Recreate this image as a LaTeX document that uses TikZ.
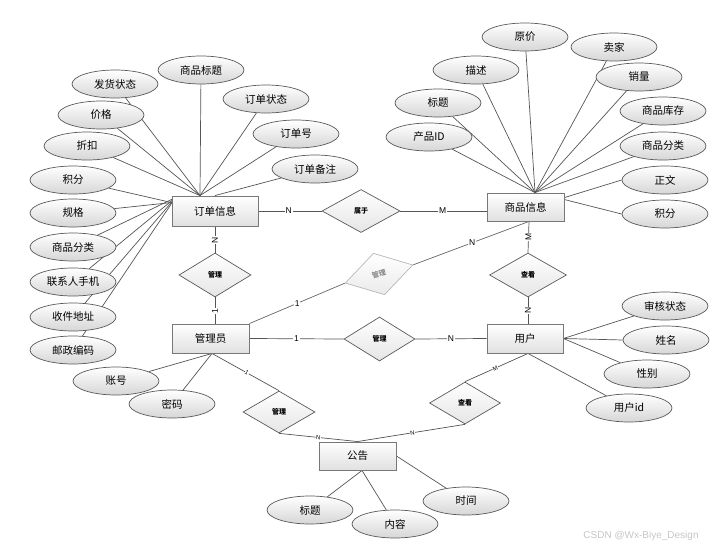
\documentclass[tikz,border=0pt]{standalone}
\usepackage{fontspec}
\setmainfont{Noto Sans CJK SC}
\newfontfamily\latinfont{Liberation Sans}
\usetikzlibrary{shapes.geometric,backgrounds}
\definecolor{edgecol}{HTML}{5A5A5A}
\definecolor{boxcol}{HTML}{787878}
\definecolor{linecol}{HTML}{555555}
\begin{document}
\begin{tikzpicture}[x=1pt,y=-1pt,
  attr/.style={ellipse, draw=edgecol, line width=0.7pt, top color=white, bottom color=black!16,
    minimum width=86pt, minimum height=28pt, inner sep=0pt, font=\fontsize{10.5}{12}\selectfont},
  entity/.style={rectangle, draw=boxcol, line width=0.9pt, top color=white, bottom color=black!12,
    minimum width=77pt, minimum height=29pt, inner sep=0pt, font=\fontsize{10.5}{12}\selectfont},
  rel/.style={diamond, draw=edgecol, line width=0.7pt, top color=white, bottom color=black!10,
    minimum width=72pt, minimum height=44pt, inner sep=0pt, font=\fontsize{7}{8}\selectfont\bfseries},
  relfaint/.style={draw=black!28, top color=white, bottom color=black!8, text=black!45},
  conn/.style={draw=linecol, line width=0.7pt},
  card/.style={fill=white, inner sep=0.8pt, font=\latinfont\fontsize{8.5}{9}\selectfont},
  cardsmall/.style={fill=white, inner sep=0.4pt, font=\latinfont\fontsize{6}{7}\selectfont},
]
\useasboundingbox (0,0) rectangle (725,549);

% ---------- entities ----------
\node[entity, minimum width=86pt, minimum height=30pt] (od) at (215,211) {订单信息};
\node[entity, minimum height=28pt] (sp) at (525.5,207) {商品信息};
\node[entity] (gly) at (210.5,338.5) {管理员};
\node[entity, minimum width=76pt] (yh) at (525,338.5) {用户};
\node[entity, minimum height=28pt] (gg) at (357.5,456) {公告};

% ---------- relationships ----------
\node[rel, minimum width=78pt, minimum height=43pt] (r1) at (361,211) {属于};
\node[rel] (r2) at (215,275) {管理};
\node[rel, relfaint, rotate=15, minimum width=70pt, minimum height=43pt] (r3) at (379,274) {管理};
\node[rel, minimum width=71pt] (r4) at (379.5,339) {管理};
\node[rel, minimum width=77pt] (r5) at (528,275) {查看};
\node[rel, minimum height=42pt] (r6) at (279,412) {管理};
\node[rel, minimum width=71pt, minimum height=42pt] (r7) at (465,403) {查看};

% ---------- attributes of 订单信息 ----------
\node[attr] (a1) at (115,84) {发货状态};
\node[attr] (a2) at (201,70) {商品标题};
\node[attr] (a3) at (266,99) {订单状态};
\node[attr] (a4) at (101,115) {价格};
\node[attr] (a5) at (296,134) {订单号};
\node[attr] (a6) at (87,146) {折扣};
\node[attr] (a7) at (315,169) {订单备注};
\node[attr] (a8) at (73,180) {积分};
\node[attr] (a9) at (73,213) {规格};
\node[attr] (a10) at (73,247) {商品分类};
\node[attr] (a11) at (73,282) {联系人手机};
\node[attr] (a12) at (73,317) {收件地址};
\node[attr] (a13) at (73,350) {邮政编码};

% ---------- attributes of 管理员 ----------
\node[attr] (m1) at (116,381) {账号};
\node[attr] (m2) at (172,404) {密码};

% ---------- attributes of 商品信息 ----------
\node[attr] (b1) at (525,37) {原价};
\node[attr] (b2) at (614,47) {卖家};
\node[attr] (b3) at (476,70) {描述};
\node[attr] (b4) at (639,77) {销量};
\node[attr] (b5) at (438,103) {标题};
\node[attr] (b6) at (663,111) {商品库存};
\node[attr] (b7) at (429,137) {产品ID};
\node[attr] (b8) at (663,146) {商品分类};
\node[attr] (b9) at (665,180) {正文};
\node[attr] (b10) at (665,214) {积分};

% ---------- attributes of 用户 ----------
\node[attr] (u1) at (665,306) {审核状态};
\node[attr] (u2) at (666,340) {姓名};
\node[attr] (u3) at (647,374) {性别};
\node[attr] (u4) at (629,408) {用户id};

% ---------- attributes of 公告 ----------
\node[attr] (g1) at (310,510) {标题};
\node[attr] (g2) at (395,524) {内容};
\node[attr] (g3) at (466,501) {时间};

% watermark
\node[text=black!22, font=\latinfont\fontsize{10}{11}\selectfont, inner sep=0pt] (wm) at (641,536) {CSDN @Wx-Biye\_Design};

% ---------- connectors (behind shapes) ----------
\begin{scope}[on background layer]
\fill[white] (0,0) rectangle (725,549);

% 订单信息 attributes
\foreach \a in {a1,a2,a3,a4,a5,a6}
  \draw[conn] (\a) -- ([xshift=-15pt]od.north);
\draw[conn] (a7) -- (od.north);
\foreach \a in {a8,a9}
  \draw[conn] (\a) -- ([yshift=-7pt]od.north west);
\foreach \a in {a10,a11,a12,a13}
  \draw[conn] (\a) -- ([xshift=4pt,yshift=-2pt]od.north west);

% 商品信息 attributes
\foreach \b in {b1,b2,b3,b4,b5,b6,b7,b8}
  \draw[conn] (\b) -- ([xshift=9.5pt]sp.north);
\draw[conn] (b9.west) -- ([yshift=-5pt]sp.north east);
\draw[conn] (b10.west) -- ([yshift=-7pt]sp.north east);

% 管理员 attributes
\draw[conn] (m1) -- ([xshift=1.5pt]gly.south);
\draw[conn] (m2) -- ([xshift=1.5pt]gly.south);

% 用户 attributes
\draw[conn] (u1) -- (yh.east);
\draw[conn] (u2.west) -- (yh.east);
\draw[conn] (u3) -- (yh.east);
\draw[conn] (u4) -- ([xshift=3pt]yh.south);

% 公告 attributes
\draw[conn] (g1) -- ([xshift=4.5pt]gg.south);
\draw[conn] (g2) -- ([xshift=4.5pt]gg.south);
\draw[conn] (g3) -- (gg.east);

% relationships
\draw[conn] (od.east) -- node[card, pos=0.48] (l1) {N} (r1.west);
\draw[conn] (r1.east) -- node[card, pos=0.49] (l2) {M} (r1.east -| sp.west);
\draw[conn] (od.south) -- node[card, pos=0.52, rotate=90] (l3) {N} (r2.north);
\draw[conn] (r2.south) -- node[card, pos=0.52, rotate=90] (l4) {1} (r2.south |- gly.north);
\draw[conn, draw=black!60] (gly.north east) -- node[card, pos=0.5] (l5) {1} (r3.west);
\draw[conn, draw=black!60] (r3.east) -- node[card, pos=0.51] (l6) {N} ([xshift=3.5pt]sp.south);
\draw[conn] (gly.east) -- node[card, pos=0.5] (l7) {1} (r4.west);
\draw[conn] (r4.east) -- node[card, pos=0.5] (l8) {N} (yh.west);
\draw[conn] ([xshift=3.5pt]sp.south) -- node[card, pos=0.5, rotate=90] (l9) {M} (r5.north);
\draw[conn] (r5.south) -- node[card, pos=0.5, rotate=90] (l10) {N} (r5.south |- yh.north);
\draw[conn] ([xshift=1.5pt]gly.south) -- node[cardsmall, pos=0.52, sloped] (l11) {1} (r6.north);
\draw[conn] (r6.south) -- node[cardsmall, pos=0.5, sloped] (l12) {N} (gg.north);
\draw[conn] ([xshift=3pt]yh.south) -- node[cardsmall, pos=0.52, sloped] (l13) {M} (r7.north);
\draw[conn] (r7.south) -- node[cardsmall, pos=0.49, sloped] (l14) {N} (gg.north);
\end{scope}
\end{tikzpicture}
\end{document}
